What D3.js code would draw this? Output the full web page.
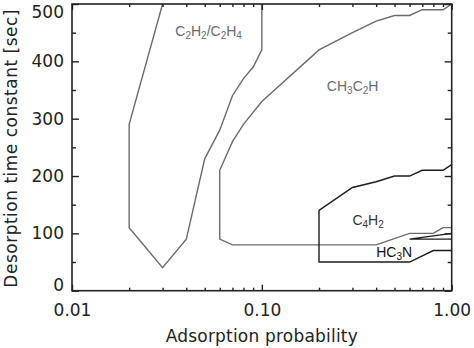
<!DOCTYPE html>
<html>
<head>
<meta charset="utf-8">
<script src="https://cdn.jsdelivr.net/npm/d3@7"></script>
<style>
  body { margin: 0; background: #fff; }
  svg { display: block; }
</style>
</head>
<body>
<svg id="chart" width="474" height="348"></svg>
<script>
// Axis ticks
const xTickValues = [0.01, 0.1, 1];
const xTickLabels = ["0.01", "0.10", "1.00"];
const xMinorValues = [0.02, 0.03, 0.04, 0.05, 0.06, 0.07, 0.08, 0.09, 0.2, 0.3, 0.4, 0.5, 0.6, 0.7, 0.8, 0.9];
const yTickValues = [0, 100, 200, 300, 400, 500];
const yMinorValues = [50, 150, 250, 350, 450];

// Contour boundaries: adsorption probability vs desorption time constant [sec]
const c2h2Prob = [0.03, 0.02, 0.02, 0.03, 0.04, 0.05, 0.06, 0.07, 0.08, 0.09, 0.1, 0.1];
const c2h2Time = [500, 290, 110, 40, 90, 230, 280, 340, 370, 390, 420, 500];

const ch3c2hProb = [1.0, 0.9, 0.8, 0.6, 0.4, 0.07, 0.06, 0.06, 0.07, 0.08, 0.1, 0.2, 0.3, 0.4, 0.5, 0.6, 0.7, 0.9, 1.0];
const ch3c2hTime = [110, 110, 100, 100, 80, 80, 90, 210, 260, 290, 330, 420, 450, 470, 480, 480, 490, 490, 500];

const c4h2Prob = [1.0, 0.8, 0.6, 0.2, 0.2, 0.3, 0.4, 0.5, 0.6, 0.7, 0.9, 1.0];
const c4h2Time = [70, 70, 50, 50, 140, 180, 190, 200, 200, 210, 210, 220];

const hc3nProb = [1.0, 0.6, 1.0];
const hc3nTime = [100, 90, 90];

// Region labels ("_" marks a subscript digit)
const regionNames = ["C_2H_2/C_2H_4", "CH_3C_2H", "C_4H_2", "HC_3N"];

const GREY = "#6b6b6b";
const DARK = "#1c1c1c";
const AXIS_FONT = "'DejaVu Sans', sans-serif";

const svg = d3.select("#chart");
const x = d3.scaleLog().domain([0.01, 1]).range([72, 451.7]);
const y = d3.scaleLinear().domain([0, 500]).range([290.7, 4]);

// Contour lines
const line = d3.line().x(d => x(d[0])).y(d => y(d[1]));
const contours = [
  { p: c2h2Prob, t: c2h2Time, color: GREY },
  { p: ch3c2hProb, t: ch3c2hTime, color: GREY },
  { p: c4h2Prob, t: c4h2Time, color: DARK },
  { p: hc3nProb, t: hc3nTime, color: DARK }
];
svg.append("g").selectAll("path")
  .data(contours)
  .join("path")
  .attr("d", c => line(c.p.map((v, i) => [v, c.t[i]])))
  .attr("fill", "none")
  .attr("stroke", c => c.color)
  .attr("stroke-width", 1.4)
  .attr("stroke-linejoin", "miter");

// Axes: ticks point inward on all four sides
function styleAxis(g) {
  g.select(".domain").remove();
  g.selectAll("line").attr("stroke", "#222").attr("stroke-width", 1.4);
  g.selectAll("text").attr("font-family", AXIS_FONT).attr("font-size", 17).attr("fill", "#222");
}
const H = 290.7, W = 451.7;

svg.append("g").attr("transform", `translate(0,${H})`)
  .call(d3.axisBottom(x).tickValues(xTickValues).tickSize(-6).tickSizeOuter(0).tickPadding(13)
    .tickFormat((d, i) => xTickLabels[i]))
  .call(styleAxis);
svg.append("g").attr("transform", `translate(0,${H})`)
  .call(d3.axisBottom(x).tickValues(xMinorValues).tickSize(-3).tickSizeOuter(0).tickFormat(""))
  .call(styleAxis);
svg.append("g").attr("transform", "translate(0,4)")
  .call(d3.axisTop(x).tickValues(xTickValues).tickSize(-6).tickSizeOuter(0).tickFormat(""))
  .call(styleAxis);
svg.append("g").attr("transform", "translate(0,4)")
  .call(d3.axisTop(x).tickValues(xMinorValues).tickSize(-3).tickSizeOuter(0).tickFormat(""))
  .call(styleAxis);

const yLeft = svg.append("g").attr("transform", "translate(72,0)")
  .call(d3.axisLeft(y).tickValues(yTickValues).tickSize(-7).tickSizeOuter(0).tickPadding(8)
    .tickFormat(d3.format("d")))
  .call(styleAxis);
// keep the end labels inside the frame height
yLeft.selectAll(".tick text").attr("dy", d => d === 0 ? "0.0em" : d === 500 ? "0.82em" : "0.32em");

svg.append("g").attr("transform", "translate(72,0)")
  .call(d3.axisLeft(y).tickValues(yMinorValues).tickSize(-4).tickSizeOuter(0).tickFormat(""))
  .call(styleAxis);
svg.append("g").attr("transform", `translate(${W},0)`)
  .call(d3.axisRight(y).tickValues(yTickValues).tickSize(-7).tickSizeOuter(0).tickFormat(""))
  .call(styleAxis);
svg.append("g").attr("transform", `translate(${W},0)`)
  .call(d3.axisRight(y).tickValues(yMinorValues).tickSize(-4).tickSizeOuter(0).tickFormat(""))
  .call(styleAxis);

// Plot frame
svg.append("rect")
  .attr("x", 72).attr("y", 4).attr("width", W - 72).attr("height", H - 4)
  .attr("fill", "none").attr("stroke", "#222").attr("stroke-width", 1.6);

// Axis titles
svg.append("text")
  .attr("x", (72 + W) / 2).attr("y", 342)
  .attr("text-anchor", "middle")
  .attr("font-family", AXIS_FONT).attr("font-size", 17).attr("fill", "#222")
  .attr("letter-spacing", 0.2)
  .text("Adsorption probability");
svg.append("text")
  .attr("transform", `translate(16.5,${(4 + H) / 2 + 1}) rotate(-90)`)
  .attr("text-anchor", "middle")
  .attr("font-family", AXIS_FONT).attr("font-size", 17).attr("fill", "#222")
  .attr("letter-spacing", 0.5)
  .text("Desorption time constant [sec]");

// Region labels with chemical subscripts
const labelSpots = [
  { name: regionNames[0], p: 0.035, t: 445, color: "#6b6b6b" },
  { name: regionNames[1], p: 0.22, t: 348, color: "#6b6b6b" },
  { name: regionNames[2], p: 0.3, t: 114, color: "#333" },
  { name: regionNames[3], p: 0.4, t: 59, color: "#111" }
];
labelSpots.forEach(s => {
  const t = svg.append("text")
    .attr("x", x(s.p)).attr("y", y(s.t))
    .attr("font-family", "'Liberation Sans', Arial, sans-serif")
    .attr("font-size", 14).attr("fill", s.color);
  const parts = s.name.split(/(_\d)/).filter(d => d.length);
  let lowered = false;
  parts.forEach(part => {
    if (part[0] === "_") {
      t.append("tspan").attr("font-size", 10).attr("dy", 3).text(part.slice(1));
      lowered = true;
    } else {
      t.append("tspan").attr("dy", lowered ? -3 : 0).text(part);
      lowered = false;
    }
  });
});
</script>
</body>
</html>
